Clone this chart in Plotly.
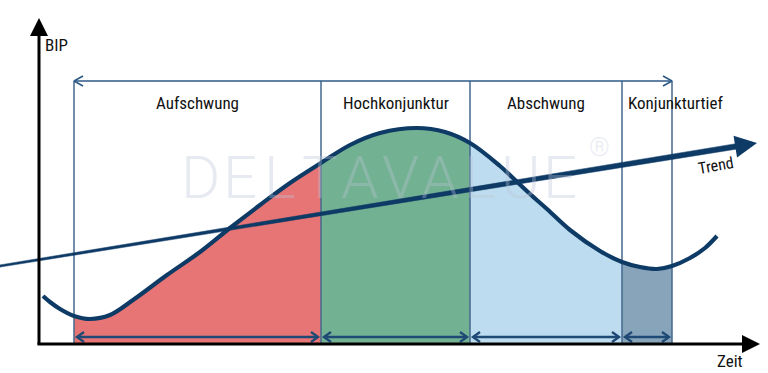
import plotly.graph_objects as go

# Business cycle (Konjunkturzyklus): time t on x, BIP on y (arbitrary units)
curve_t = [4, 11, 21, 35, 51, 71, 94, 128, 161, 191, 221, 251, 282, 311, 341, 378,
           406, 431, 461, 474, 491, 508, 531, 561, 583, 601, 618, 633, 651, 666, 678]
curve_bip = [48, 42, 35, 28, 25, 29, 44, 69, 92, 116, 139, 161, 181, 199, 211, 216,
             212, 201, 178, 166, 150, 135, 114, 93, 82, 77, 75, 78, 86, 96, 108]

phase_names = ["Aufschwung", "Hochkonjunktur", "Abschwung", "Konjunkturtief"]
phase_bounds = [35, 282, 431, 583, 633]
phase_colors = ["#E87575", "#73B193", "#BDDCEF", "#88A4BA"]

trend_t = [-39, 718]
trend_bip = [78, 201]

axis_x_end = 721
axis_y_end = 326
watermark = "DELTAVALUE"

NAVY = "#0E3A66"
LINE_BLUE = "#45698E"
ARROW_BLUE = "#1F4A75"
TOP_BLUE = "#2E5A87"
LABEL_FONT = "Roboto Condensed, Liberation Sans Narrow, Roboto, sans-serif"

fig = go.Figure()

# coloured phase areas under the curve
for i, color in enumerate(phase_colors):
    lo, hi = phase_bounds[i], phase_bounds[i + 1]
    idx = [k for k, t in enumerate(curve_t) if lo <= t <= hi]
    fig.add_trace(go.Scatter(
        x=[curve_t[k] for k in idx], y=[curve_bip[k] for k in idx],
        mode="lines", line=dict(color=color, width=0, shape="spline", smoothing=1.0),
        fill="tozeroy", fillcolor=color, hoverinfo="skip", showlegend=False))

# phase boundaries
vx, vy = [], []
for b in phase_bounds:
    vx += [b, b, None]
    vy += [0, 263, None]
fig.add_trace(go.Scatter(x=vx, y=vy, mode="lines",
                         line=dict(color=LINE_BLUE, width=1.5),
                         hoverinfo="skip", showlegend=False))


def double_arrow(a, b, y, head_len, head_h):
    xs = [a + head_len, a, a + head_len, None, a, b, None, b - head_len, b, b - head_len, None]
    ys = [y + head_h, y, y - head_h, None, y, y, None, y + head_h, y, y - head_h, None]
    return xs, ys


# arrow across the whole cycle
tx, ty = double_arrow(phase_bounds[0], phase_bounds[-1], 263, 9, 5)
fig.add_trace(go.Scatter(x=tx, y=ty, mode="lines",
                         line=dict(color=TOP_BLUE, width=1.6),
                         hoverinfo="skip", showlegend=False))

# arrows for each phase
bx, by = [], []
for i in range(len(phase_names)):
    xs, ys = double_arrow(phase_bounds[i] + 3, phase_bounds[i + 1] - 3, 7, 7, 5)
    bx += xs
    by += ys
fig.add_trace(go.Scatter(x=bx, y=by, mode="lines",
                         line=dict(color=ARROW_BLUE, width=2.4),
                         hoverinfo="skip", showlegend=False))

# the cycle curve
fig.add_trace(go.Scatter(x=curve_t, y=curve_bip, mode="lines",
                         line=dict(color=NAVY, width=4.2, shape="spline", smoothing=1.0),
                         hoverinfo="skip", showlegend=False))

# tapered trend band
slope = (trend_bip[1] - trend_bip[0]) / (trend_t[1] - trend_t[0])
tip_back = trend_t[1] - 12
tip_back_y = trend_bip[0] + slope * (tip_back - trend_t[0])
w0, w1 = 1.1, 2.8
fig.add_trace(go.Scatter(
    x=[trend_t[0], tip_back, tip_back, trend_t[0], trend_t[0]],
    y=[trend_bip[0] + w0, tip_back_y + w1, tip_back_y - w1, trend_bip[0] - w0, trend_bip[0] + w0],
    mode="lines", line=dict(color=NAVY, width=0.5), fill="toself", fillcolor=NAVY,
    hoverinfo="skip", showlegend=False))

annotations = []

# trend arrow head
annotations.append(dict(x=trend_t[1], y=trend_bip[1], ax=tip_back, ay=tip_back_y,
                        xref="x", yref="y", axref="x", ayref="y", text="",
                        showarrow=True, arrowhead=2, arrowsize=1.1, arrowwidth=4,
                        arrowcolor=NAVY))

# axes with arrow heads
annotations.append(dict(x=0, y=axis_y_end, ax=0, ay=-2, xref="x", yref="y",
                        axref="x", ayref="y", text="", showarrow=True, arrowhead=2,
                        arrowsize=1.2, arrowwidth=3, arrowcolor="#000000"))
annotations.append(dict(x=axis_x_end, y=0, ax=-3, ay=0, xref="x", yref="y",
                        axref="x", ayref="y", text="", showarrow=True, arrowhead=2,
                        arrowsize=1.2, arrowwidth=3, arrowcolor="#000000"))

# phase labels
for i, name in enumerate(phase_names):
    lo, hi = phase_bounds[i], phase_bounds[i + 1]
    if i == len(phase_names) - 1:
        annotations.append(dict(x=lo + 4, y=241, xref="x", yref="y", text=name,
                                showarrow=False, xanchor="left",
                                font=dict(family=LABEL_FONT, size=17, color="#111111")))
    else:
        annotations.append(dict(x=(lo + hi) / 2, y=241, xref="x", yref="y", text=name,
                                showarrow=False,
                                font=dict(family=LABEL_FONT, size=17, color="#111111")))

annotations.append(dict(x=4, y=299, xref="x", yref="y", text="BIP", showarrow=False,
                        xanchor="left", font=dict(family=LABEL_FONT, size=17, color="#111111")))
annotations.append(dict(x=691, y=-17, xref="x", yref="y", text="Zeit", showarrow=False,
                        font=dict(family=LABEL_FONT, size=17, color="#111111")))
annotations.append(dict(x=677, y=179, xref="x", yref="y", text="Trend", showarrow=False,
                        textangle=-10,
                        font=dict(family=LABEL_FONT, size=16, color="#111111")))

# watermark
for i, ch in enumerate(watermark):
    annotations.append(dict(x=161 + 40 * i, y=167, xref="x", yref="y", text=ch,
                            showarrow=False,
                            font=dict(family="Roboto, sans-serif", size=60, weight=300,
                                      color="rgba(185,197,214,0.35)")))
annotations.append(dict(x=560, y=197, xref="x", yref="y", text="®", showarrow=False,
                        font=dict(family="Roboto, sans-serif", size=26, weight=300,
                                  color="rgba(185,197,214,0.35)")))

fig.update_layout(
    width=768, height=373, autosize=False,
    margin=dict(l=0, r=0, t=0, b=0),
    paper_bgcolor="white", plot_bgcolor="white",
    xaxis=dict(range=[-39, 729], visible=False, fixedrange=True),
    yaxis=dict(range=[-29, 344], visible=False, fixedrange=True),
    annotations=annotations,
    showlegend=False,
)

fig.write_html("out.html")
